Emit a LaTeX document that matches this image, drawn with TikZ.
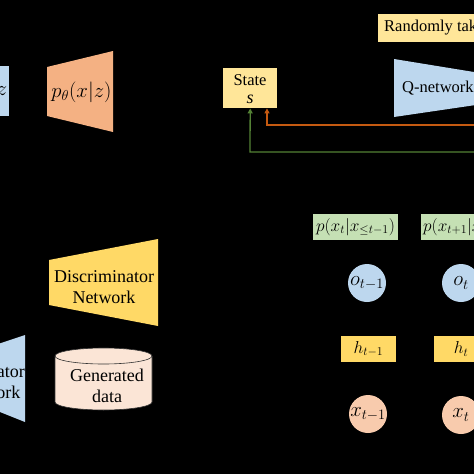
\documentclass[tikz,border=0pt]{standalone}
\usepackage{fontspec}
\setmainfont{Liberation Serif}
\usetikzlibrary{arrows.meta}
\definecolor{lblue}{HTML}{BDD7EE}
\definecolor{lorange}{HTML}{F4B183}
\definecolor{lyellow}{HTML}{FFE699}
\definecolor{dyellow}{HTML}{FFD966}
\definecolor{lpink}{HTML}{FBE5D6}
\definecolor{lgreen}{HTML}{C5E0B4}
\definecolor{lsalmon}{HTML}{F8CBAD}
\definecolor{lineorange}{HTML}{C55A11}
\definecolor{linegreen}{HTML}{548235}
\tikzset{
  x=1pt, y=-1pt,
  txt/.style={inner sep=0pt, font=\fontsize{16.5}{20}\selectfont, text=black},
  bigtxt/.style={inner sep=0pt, font=\fontsize{18}{21}\selectfont, text=black, align=center},
  boxn/.style={draw=none, inner sep=0pt, anchor=north west},
  circn/.style={circle, minimum size=38pt, inner sep=0pt, font=\fontsize{20}{22}\selectfont},
  fb/.style={line width=1.3pt, -{Triangle[width=5pt,length=5pt]}},
}
\begin{document}
\begin{tikzpicture}
\useasboundingbox (0,0) rectangle (474,474);
\fill[black] (0,0) rectangle (474,474);
\clip (0,0) rectangle (474,474);

% left blue z box
\fill[lblue] (-40,66) rectangle (9,116);
\node[txt, anchor=east, font=\fontsize{20}{22}\selectfont] (zlbl) at (7.5,91) {$z$};

% decoder trapezoid
\fill[lorange] (47,67) -- (113,51) -- (113,132) -- (47,116) -- cycle;
\node[txt, font=\fontsize{20}{22}\selectfont] (dec) at (81.5,92) {$p_\theta(x|z)$};

% State box
\node[boxn, fill=lyellow, minimum width=54pt, minimum height=40pt] (state) at (223,68) {};
\node[txt] (statet) at (250,80) {State};
\node[txt, font=\fontsize{18}{20}\selectfont] (states) at (250,99) {\textit{s}};

% Randomly box
\fill[lyellow] (378,14) rectangle (520,42);
\node[txt, anchor=west] (rand) at (384,28) {Randomly take action};

% Q-network trapezoid
\fill[lblue] (394,59) -- (520,79.5) -- (520,98.5) -- (394,117) -- cycle;
\node[txt, anchor=west] (qnet) at (402,88) {Q-network};

% feedback arrows
\coordinate (oend) at (480,125);
\coordinate (gend) at (480,152);
\draw[fb, lineorange] (oend) -- (267,125) -- (state.south -| 267,0);
\draw[fb, linegreen] (gend) -- (250,152) -- (state.south);

% Discriminator trapezoid
\fill[dyellow] (49,260) -- (158,239) -- (158,326) -- (49,305) -- cycle;
\node[bigtxt] (disc) at (104,287) {Discriminator\\Network};

% Generator trapezoid
\fill[lblue] (-80,370) -- (25,335) -- (25,422) -- (-80,380) -- cycle;
\node[bigtxt] (gen) at (-11,382) {Generator\\Network};

% Generated data cylinder
\filldraw[fill=lpink, draw=black!80, line width=0.6pt]
  (55,356) -- (55,402) arc[start angle=180, end angle=0, x radius=48.5, y radius=8]
  -- (152,356) arc[start angle=0, end angle=-180, x radius=48.5, y radius=8] -- cycle;
\draw[black!80, line width=0.6pt] (55,356) arc[start angle=180, end angle=0, x radius=48.5, y radius=8];
\node[bigtxt] (gdata) at (107,386) {Generated\\data};

% RNN: output distributions
\fill[lgreen] (313,214) rectangle (398,240);
\node[txt, font=\fontsize{16.5}{20}\selectfont] (p1) at (355.5,227) {$p(x_t|x_{\le t-1})$};
\fill[lgreen] (421,214) rectangle (540,240);
\node[txt, font=\fontsize{16.5}{20}\selectfont, anchor=west] (p2) at (423,227) {$p(x_{t+1}|x_{\le t})$};

% outputs
\node[circn, fill=lblue] (o1) at (367,283) {$o_{t-1}$};
\node[circn, fill=lblue] (o2) at (461,283) {$o_t$};

% hidden
\fill[dyellow] (341,336) rectangle (396,362);
\node[txt, font=\fontsize{18}{20}\selectfont] (h1) at (368.5,349) {$h_{t-1}$};
\fill[dyellow] (434,336) rectangle (520,362);
\node[txt, font=\fontsize{18}{20}\selectfont] (h2) at (461,349) {$h_t$};

% inputs
\node[circn, fill=lsalmon] (x1) at (368,414) {$x_{t-1}$};
\node[circn, fill=lsalmon] (x2) at (461,415) {$x_t$};
\end{tikzpicture}
\end{document}
